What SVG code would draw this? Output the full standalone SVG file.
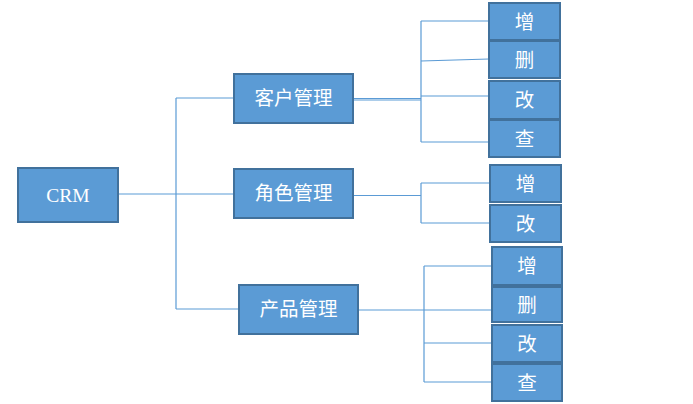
<svg xmlns="http://www.w3.org/2000/svg" width="693" height="404" viewBox="0 0 693 404">
<style>
.box{fill:#5B9BD5;stroke:#41719C;stroke-width:2}
.t{fill:#fff;font-family:"Liberation Serif","Noto Sans CJK SC",serif;font-size:19.5px;text-anchor:middle;dominant-baseline:central}
.c{fill:none;stroke:#5B9BD5;stroke-width:1.2}
</style>
<rect width="693" height="404" fill="#fff"/>
<g id="connectors">
<path class="c" d="M118 194H233M176 98V309M176 98H233M176 309H238"/>
<path class="c" d="M353 98.5H421M353 100H421M421 21V142M421 21H489M421 61L489 59M421 96H489M421 142H489"/>
<path class="c" d="M353 195.5H421" stroke-width="2"/>
<path class="c" d="M421 183V223M421 183H490M421 223H490"/>
<path class="c" d="M358 310H424M424 266V382M424 266H492M424 310H492M424 343H492M424 382H492"/>
</g>
<g id="crm"><rect class="box" x="18" y="168" width="100" height="54"/><text class="t" x="68" y="195.5">CRM</text></g>
<g id="kehu"><rect class="box" x="234" y="74" width="119" height="49"/><text class="t" x="293.5" y="98.5">客户管理</text></g>
<g id="juese"><rect class="box" x="234" y="169" width="119" height="49"/><text class="t" x="293.5" y="193.5">角色管理</text></g>
<g id="chanpin"><rect class="box" x="239" y="285" width="119" height="49"/><text class="t" x="298.5" y="309.5">产品管理</text></g>
<g id="k-add"><rect class="box" x="489" y="3" width="71" height="37"/><text class="t" x="524.5" y="22">增</text></g>
<g id="k-del"><rect class="box" x="489" y="41" width="71" height="37"/><text class="t" x="524.5" y="60">删</text></g>
<g id="k-mod"><rect class="box" x="489" y="81" width="71" height="38"/><text class="t" x="524.5" y="100.5">改</text></g>
<g id="k-qry"><rect class="box" x="489" y="120" width="71" height="37"/><text class="t" x="524.5" y="139">查</text></g>
<g id="j-add"><rect class="box" x="490" y="165" width="71" height="37"/><text class="t" x="525.5" y="184">增</text></g>
<g id="j-mod"><rect class="box" x="490" y="205" width="71" height="37"/><text class="t" x="525.5" y="224">改</text></g>
<g id="c-add"><rect class="box" x="492" y="247" width="70" height="38"/><text class="t" x="527" y="266.5">增</text></g>
<g id="c-del"><rect class="box" x="492" y="287" width="70" height="35"/><text class="t" x="527" y="305.5">删</text></g>
<g id="c-mod"><rect class="box" x="492" y="325" width="70" height="37"/><text class="t" x="527" y="344">改</text></g>
<g id="c-qry"><rect class="box" x="492" y="364" width="70" height="37"/><text class="t" x="527" y="383">查</text></g>
</svg>
